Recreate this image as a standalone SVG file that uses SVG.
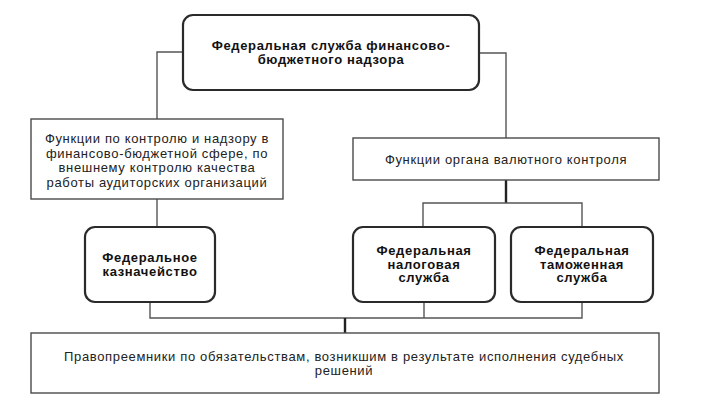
<svg xmlns="http://www.w3.org/2000/svg" width="701" height="417" viewBox="0 0 701 417">
<style>
.rb{fill:#fff;stroke:#2a2a2a;stroke-width:2.2}
.sb{fill:#fff;stroke:#4a4a4a;stroke-width:1.4}
.c{fill:none;stroke:#555;stroke-width:1.4}
.ct{fill:none;stroke:#222;stroke-width:2.4}
.b{font-family:"Liberation Sans",Arial,sans-serif;font-size:13px;font-weight:bold;letter-spacing:0.65px;fill:#111;text-anchor:middle}
.n{font-family:"Liberation Sans",Arial,sans-serif;font-size:13px;letter-spacing:0.65px;fill:#222;text-anchor:middle}
</style>
<rect width="701" height="417" fill="#fff"/>
<g id="connectors">
<path class="c" d="M183 52 H157 V119"/>
<path class="c" d="M479 53 H506 V138"/>
<path class="ct" d="M506 180 V203"/>
<path class="c" d="M423 227 V203 H582 V227"/>
<path class="c" d="M157 199 V227"/>
<path class="c" d="M150 302 V318 H582 V302"/>
<path class="c" d="M424 302 V318"/>
<path class="ct" d="M345 318 V333"/>
</g>
<g id="top">
<rect class="rb" x="183" y="15" width="296" height="75" rx="10"/>
<text class="b" x="331" y="50">Федеральная служба финансово-</text>
<text class="b" x="331" y="63.5">бюджетного надзора</text>
</g>
<g id="left-functions">
<rect class="sb" x="31" y="119" width="252" height="80"/>
<text class="n" x="157" y="143">Функции по контролю и надзору в</text>
<text class="n" x="157" y="157.5">финансово-бюджетной сфере, по</text>
<text class="n" x="157" y="172">внешнему контролю качества</text>
<text class="n" x="157" y="186.5">работы аудиторских организаций</text>
</g>
<g id="currency-control">
<rect class="sb" x="353" y="138" width="306" height="42"/>
<text class="n" x="506" y="164">Функции органа валютного контроля</text>
</g>
<g id="treasury">
<rect class="rb" x="85" y="227" width="130" height="75" rx="10"/>
<text class="b" x="150" y="262">Федеральное</text>
<text class="b" x="150" y="275.5">казначейство</text>
</g>
<g id="tax">
<rect class="rb" x="353" y="227" width="142" height="75" rx="10"/>
<text class="b" x="424" y="255">Федеральная</text>
<text class="b" x="424" y="268.5">налоговая</text>
<text class="b" x="424" y="282">служба</text>
</g>
<g id="customs">
<rect class="rb" x="511" y="227" width="142" height="75" rx="10"/>
<text class="b" x="582" y="255">Федеральная</text>
<text class="b" x="582" y="268.5">таможенная</text>
<text class="b" x="582" y="282">служба</text>
</g>
<g id="successors">
<rect class="sb" x="31" y="333" width="628" height="60"/>
<text class="n" x="344" y="361">Правопреемники по обязательствам, возникшим в результате исполнения судебных</text>
<text class="n" x="344" y="375">решений</text>
</g>
</svg>
